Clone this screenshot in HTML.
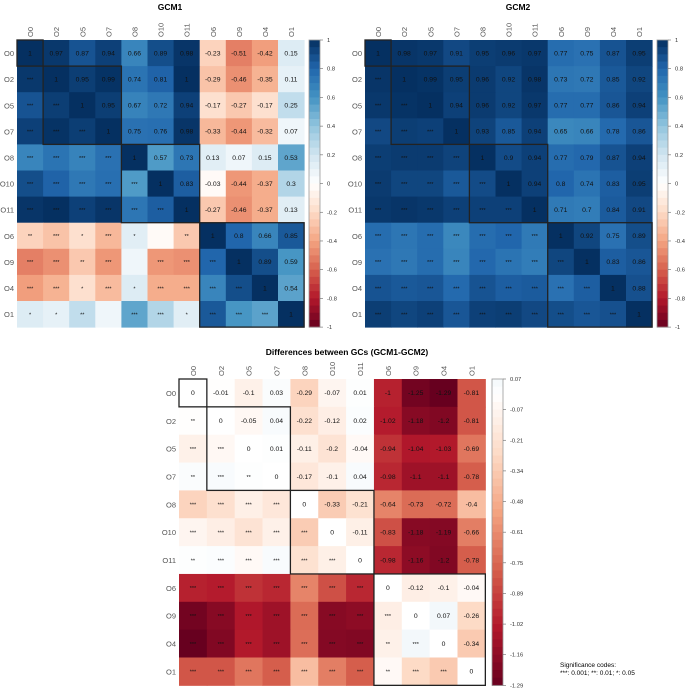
<!DOCTYPE html>
<html><head><meta charset="utf-8"><style>
html,body{margin:0;padding:0;background:#fff;}
svg{display:block;font-family:"Liberation Sans",sans-serif;}
</style></head><body>
<svg id="fig" width="685" height="688" viewBox="0 0 685 688" xmlns="http://www.w3.org/2000/svg">
<text x="170" y="10" font-size="8.5" font-weight="bold" text-anchor="middle">GCM1</text>
<text x="518" y="10" font-size="8.5" font-weight="bold" text-anchor="middle">GCM2</text>
<text x="347" y="355" font-size="8.5" font-weight="bold" text-anchor="middle">Differences between GCs (GCM1-GCM2)</text>
<text x="560" y="667" font-size="6.5">Significance codes:</text>
<text x="560" y="675" font-size="6.5">***: 0.001;  **: 0.01;  *: 0.05</text>
</svg>
<script>
const labels = ["O0","O2","O5","O7","O8","O10","O11","O6","O9","O4","O1"];
const gcm1Upper = [
[1,.97,.87,.94,.66,.89,.98,-.23,-.51,-.42,.15],
[1,.95,.99,.74,.81,1,-.29,-.46,-.35,.11],
[1,.95,.67,.72,.94,-.17,-.27,-.17,.25],
[1,.75,.76,.98,-.33,-.44,-.32,.07],
[1,.57,.73,.13,.07,.15,.53],
[1,.83,-.03,-.44,-.37,.3],
[1,-.27,-.46,-.37,.13],
[1,.8,.66,.85],
[1,.89,.59],
[1,.54],
[1]];
const gcm1Stars = [
[],["***"],["***","***"],["***","***","***"],["***","***","***","***"],
["***","***","***","***","***"],["***","***","***","***","***","***"],
["**","***","*","***","*","","**"],
["***","***","**","***","","***","***","***"],
["***","***","*","***","*","***","***","***","***"],
["*","*","**","","***","***","*","***","***","***"]];
const gcm2Upper = [
[1,.98,.97,.91,.95,.96,.97,.77,.75,.87,.95],
[1,.99,.95,.96,.92,.98,.73,.72,.85,.92],
[1,.94,.96,.92,.97,.77,.77,.86,.94],
[1,.93,.85,.94,.65,.66,.78,.86],
[1,.9,.94,.77,.79,.87,.94],
[1,.94,.8,.74,.83,.95],
[1,.71,.7,.84,.91],
[1,.92,.75,.89],
[1,.83,.86],
[1,.88],
[1]];
const gcm2Stars = labels.map((_,i)=>Array(i).fill("***"));
const diffUpper = [
[0,-.01,-.1,.03,-.29,-.07,.01,-1,-1.25,-1.29,-.81],
[0,-.05,.04,-.22,-.12,.02,-1.02,-1.18,-1.2,-.81],
[0,.01,-.11,-.2,-.04,-.94,-1.04,-1.03,-.69],
[0,-.17,-.1,.04,-.98,-1.1,-1.1,-.78],
[0,-.33,-.21,-.64,-.73,-.72,-.4],
[0,-.11,-.83,-1.18,-1.19,-.66],
[0,-.98,-1.16,-1.2,-.78],
[0,-.12,-.1,-.04],
[0,.07,-.26],
[0,-.34],
[0]];
const diffStars = [
[],["**"],["***","***"],["**","***","**"],["***","***","***","***"],
["***","***","***","***","***"],["**","***","***","***","***","***"],
["***","***","***","***","***","***","***"],
["***","***","***","***","***","***","***","***"],
["***","***","***","***","***","***","***","**","***"],
["***","***","***","***","***","***","***","**","***","***"]];
const corrTicks = ["1","0.8","0.6","0.4","0.2","0","-0.2","-0.4","-0.6","-0.8","-1"];
const diffTicks = ["0.07","-0.07","-0.21","-0.34","-0.48","-0.61","-0.75","-0.89","-1.02","-1.16","-1.29"];
const groups = [[0,0],[1,3],[4,6],[7,10]];

const NS="http://www.w3.org/2000/svg";
const svg=document.getElementById('fig');
const pal=["#67001F","#B2182B","#D6604D","#F4A582","#FDDBC7","#FFFFFF","#D1E5F0","#92C5DE","#4393C3","#2166AC","#053061"];
function hex(h){return [1,3,5].map(i=>parseInt(h.substr(i,2),16));}
const palRGB=pal.map(hex);
function colorFor(t){ // t in [-1,1]
  t=Math.max(-1,Math.min(1,t));
  const p=(t+1)/2*(pal.length-1);
  const i=Math.min(pal.length-2,Math.floor(p)),f=p-i;
  const a=palRGB[i],b=palRGB[i+1];
  return "rgb("+a.map((v,k)=>Math.round(v+(b[k]-v)*f)).join(",")+")";
}
function full(upper){
  const n=labels.length,m=[];
  for(let i=0;i<n;i++){m.push([]);for(let j=0;j<n;j++){m[i][j]= j>=i? upper[i][j-i] : upper[j][i-j];}}
  return m;
}
function el(tag,attrs){const e=document.createElementNS(NS,tag);for(const k in attrs)e.setAttribute(k,attrs[k]);svg.appendChild(e);return e;}

function heatmap(key,upper,stars,x0,y0,cell,scaleMax,cbX,ticks,tMax,tMin){
  const m=full(upper),n=labels.length;
  const xs=j=>x0+j*cell, ys=i=>y0+i*cell;
  for(let i=0;i<n;i++)for(let j=0;j<n;j++){
    const v=m[i][j];
    const r=el('rect',{x:xs(j),y:ys(i),width:cell+0.5,height:cell+0.5,fill:colorFor(v/scaleMax)});
    
    
    const txt = j>=i ? String(v).replace(/^(-?)0\./,'$10.') : (stars[i][j]||"");
    if(txt){
      const t=el('text',{x:xs(j)+cell/2,y:ys(i)+cell/2+2.3,'font-size':j>=i?6.8:5.5,'text-anchor':'middle',fill:'#111'});
      t.textContent=txt;
      
      
    }
  }
  for(let i=0;i<n;i++){
    const rl=el('text',{x:x0-3,y:ys(i)+cell/2+3,'font-size':7.5,'text-anchor':'end',fill:'#555'});
    rl.textContent=labels[i];
    
    
    const cx=xs(i)+cell/2+3, cy=y0-3;
    const cl=el('text',{x:cx,y:cy,'font-size':7.5,fill:'#555',transform:'rotate(-90 '+cx+' '+cy+')'});
    cl.textContent=labels[i];
    
    
  }
  groups.forEach(g=>{
    const b=el('rect',{x:xs(g[0]),y:ys(g[0]),width:(g[1]-g[0]+1)*cell,height:(g[1]-g[0]+1)*cell,fill:'none',stroke:'#222','stroke-width':1.3});
    
    
  });
  // colorbar
  const H=n*cell, steps=40;
  const tv=s=>tMax+(tMin-tMax)*s;
  for(let s=0;s<steps;s++){
    const v=tv((s+0.5)/steps);
    const r=el('rect',{x:cbX,y:y0+s*H/steps,width:11,height:H/steps+0.5,fill:colorFor(v/scaleMax)});
    
    
  }
  const fr=el('rect',{x:cbX,y:y0,width:11,height:H,fill:'none',stroke:'#999','stroke-width':0.8});
  
  
  ticks.forEach((lab,k)=>{
    const ty=y0+k*H/(ticks.length-1);
    el('line',{x1:cbX+11,x2:cbX+14,y1:ty,y2:ty,stroke:'#666','stroke-width':0.6});
    const t=el('text',{x:cbX+18,y:ty+2,'font-size':5.8,fill:'#333'});
    t.textContent=lab;
    
    
  });
}
heatmap('gcm1',gcm1Upper,gcm1Stars,17,40,26.1,1,309,corrTicks,1,-1);
heatmap('gcm2',gcm2Upper,gcm2Stars,365,40,26.1,1,657,corrTicks,1,-1);
heatmap('diff',diffUpper,diffStars,179,379,27.85,1.29,492,diffTicks,0.07,-1.29);
</script>
</body></html>
